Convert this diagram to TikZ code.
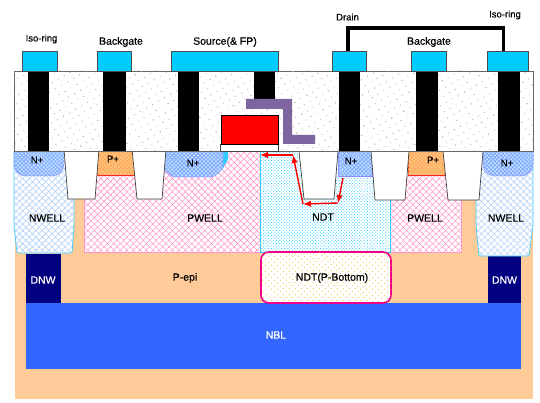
\documentclass[tikz,border=0pt]{standalone}
\usepackage{fontspec}
\setmainfont{Liberation Sans}
\newfontfamily\semifont[FakeBold=0.5]{Liberation Sans}
\usetikzlibrary{arrows.meta,patterns.meta}
\definecolor{epi}{HTML}{FFCC99}
\definecolor{metalc}{HTML}{00CCFF}
\definecolor{nblc}{HTML}{3366FF}
\definecolor{dnwc}{HTML}{000080}
\definecolor{viac}{HTML}{7F659F}
\definecolor{wellc}{HTML}{33CCFF}
\definecolor{pinkc}{HTML}{FF99CC}
\definecolor{nhatch}{HTML}{B4D2FA}
\tikzset{
  metal/.style={draw=black!70,line width=.7pt,fill=metalc,inner sep=0pt,minimum height=20pt},
  via/.style={fill=black},
  sti/.style={draw=black!75,line width=.7pt,fill=white},
  oxide/.style={draw=black!60,line width=.9pt,fill=white,postaction={pattern={Dots[radius=.7pt,distance=6.5pt,angle=30]},pattern color=black!28}},
  pwell/.style={draw=pinkc,line width=.7pt,fill=white,postaction={pattern={Hatch[angle=45,distance=4.6pt,line width=.6pt]},pattern color=pinkc}},
  nwell/.style={draw=wellc,line width=.8pt,fill=white,rounded corners=1.5pt,postaction={pattern={Hatch[angle=45,distance=4.6pt,line width=.6pt]},pattern color=nhatch}},
  ndt/.style={draw=wellc,line width=.7pt,fill=white,postaction={pattern={Dots[radius=.6pt,distance=2.3pt,angle=45]},pattern color=wellc}},
  pbot/.style={draw=magenta,line width=1.6pt,fill=white,rounded corners=8pt,postaction={pattern={Dots[radius=.55pt,distance=4pt,angle=45]},pattern color=orange!60!yellow}},
  nplus/.style={draw=blue!45!white,line width=.5pt,fill=blue!35!cyan!25!white,postaction={pattern={Hatch[angle=45,distance=2.8pt,line width=.8pt]},pattern color=nblc!60!white}},
  pplus/.style={draw=red!85,line width=.6pt,fill=orange!45!white,postaction={pattern={Hatch[angle=45,distance=2.8pt,line width=.6pt]},pattern color=orange!70!white}},
  lbl/.style={font=\semifont\fontsize{10.5}{12}\selectfont,text=black,inner sep=0pt},
  lbls/.style={lbl,font=\semifont\fontsize{9.5}{12}\selectfont},
  lblw/.style={lbl,text=white},
  arr/.style={-{Latex[length=8pt,width=6.5pt]},draw=red,line width=1.4pt}
}
\begin{document}
\begin{tikzpicture}[x=1pt,y=-1pt]
\useasboundingbox (0,0) rectangle (540,403);
% substrate and buried layers
\fill[epi] (14.5,150) rectangle (533,399);
\fill[nblc] (25.5,303) rectangle (521,369);
\fill[dnwc] (25.5,254) rectangle (61,303);
\fill[dnwc] (488,256) rectangle (521,303);
% wells
\draw[pwell] (84,151) rectangle (262,252);
\draw[pwell] (390,151) rectangle (461,252);
\draw[ndt] (260,151) rectangle (390,252);
\draw[nwell] (14,150) -- (74,150) -- (74,225) -- (72,253) -- (17,253) -- (14,225) -- cycle;
\draw[nwell] (476,151) -- (533,151) -- (533,225) -- (529,256) -- (479,256) -- (476,225) -- cycle;
\draw[pbot] (261,252) rectangle (391,303);
% implants
\fill[wellc] (219,151) -- (228,151) -- (228,159) -- (222,170) -- cycle;
\draw[nplus] (14,150) -- (64,150) [rounded corners=12pt] -- (64,176) -- (14,176) [sharp corners] -- cycle;
\draw[nplus] (163,151) -- (223,151) [rounded corners=14pt] -- (223,177) -- (163,177) [sharp corners] -- cycle;
\draw[nplus] (338,151) -- (372,151) -- (372,176) -- (338,176) -- cycle;
\draw[nplus] (483,150) -- (533,150) [rounded corners=12pt] -- (533,176) -- (483,176) [sharp corners] -- cycle;
\draw[pplus] (97,150) rectangle (134,175);
\draw[pplus] (408,151) rectangle (445,175);
% trench isolation
\draw[sti] (64,149) -- (99,149) -- (95,199) -- (68,199) -- cycle;
\draw[sti] (132,149) -- (166,149) -- (162,199) -- (137,199) -- cycle;
\draw[sti] (299,151) -- (338,151) -- (334,199) -- (304,199) -- cycle;
\draw[sti] (371,151) -- (409,151) -- (405,200) -- (375,200) -- cycle;
\draw[sti] (443,151) -- (483,151) -- (479,200) -- (448,200) -- cycle;
% dielectric and plugs
\draw[oxide] (14,71) rectangle (533,151);
\fill[via] (28,71) rectangle (49,151);
\fill[via] (103,71) rectangle (126,151);
\fill[via] (178,71) rectangle (199,151);
\fill[via] (254,71) rectangle (275,99);
\fill[via] (339,71) rectangle (360,151);
\fill[via] (416,71) rectangle (438,151);
\fill[via] (498,71) rectangle (520,151);
% gate and field plate
\draw[sti] (220,144) rectangle (278,151);
\draw[black,line width=.7pt,fill=red] (221,115) rectangle (278,144);
\fill[viac] (246,99) -- (292,99) -- (292,135) -- (315,135) -- (315,144) -- (283,144) -- (283,109) -- (246,109) -- cycle;
% top metal
\node[metal,minimum width=35pt] (isoL) at (39.5,61) {};
\node[metal,minimum width=34pt] (bgL) at (114,61) {};
\node[metal,minimum width=107pt] (src) at (224.5,61) {};
\node[metal,minimum width=34pt] (drn) at (349,61) {};
\node[metal,minimum width=35pt] (bgR) at (428.5,61) {};
\node[metal,minimum width=41pt] (isoR) at (507.5,61) {};
\coordinate (wire) at (400,28);
\draw[line width=3.5pt] ([xshift=-1pt]drn.north) |- (wire) -| ([xshift=-4pt]isoR.north);
% current path
\coordinate (p1) at (343,178);
\coordinate (p2) at (338,203);
\coordinate (p3) at (303,204);
\coordinate (p4) at (293,155);
\coordinate (p5) at (260,155);
\draw[arr] (p1) -- (p2);
\draw[arr] (p2) -- (p3);
\draw[arr] (p3) -- (p4);
\draw[arr] (p4) -- (p5);
% labels
\node[lbls] (tIsoL) at (41.5,39) {Iso-ring};
\node[lbl] (tBgL) at (121,42) {Backgate};
\node[lbl] (tSrc) at (225,42) {Source(\& FP)};
\node[lbls] (tDrn) at (347.5,17) {Drain};
\node[lbl] (tBgR) at (429,42) {Backgate};
\node[lbls] (tIsoR) at (505,15) {Iso-ring};
\node[lbls] (n1) at (37,160) {N+};
\node[lbls] (p1t) at (113,159) {P+};
\node[lbls] (n2) at (193,163) {N+};
\node[lbls] (n3) at (351,161) {N+};
\node[lbls] (p2t) at (433,160) {P+};
\node[lbls] (n4) at (507,163) {N+};
\node[lbl] (wL) at (47,218) {NWELL};
\node[lbl] (pwL) at (205,218) {PWELL};
\node[lbl] (tNdt) at (323,217) {NDT};
\node[lbl] (pwR) at (425,218) {PWELL};
\node[lbl] (wR) at (506,218) {NWELL};
\node[lblw] (dL) at (43,280) {DNW};
\node[lbl] (tEpi) at (185,278) {P-epi};
\node[lbl] (tBot) at (332,278) {NDT(P-Bottom)};
\node[lblw] (dR) at (504.5,280) {DNW};
\node[lblw] (tNbl) at (276,335) {NBL};
\end{tikzpicture}
\end{document}
